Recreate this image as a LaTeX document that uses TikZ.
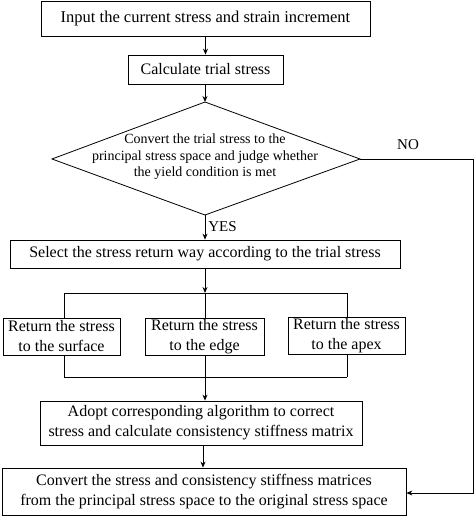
\documentclass[tikz,border=0pt]{standalone}
\usepackage{fontspec}
\setmainfont{Liberation Serif}
\usetikzlibrary{arrows.meta}
\begin{document}
\begin{tikzpicture}[x=1pt,y=-1pt,
  every path/.style={line width=0.8pt},
  box/.style={draw, line width=0.8pt, inner sep=0pt, align=center, font=\fontsize{16}{20}\selectfont},
  arr/.style={-{Stealth[length=6pt,width=5pt]}},
  lbl/.style={inner sep=0pt, font=\fontsize{15}{18}\selectfont}]
\useasboundingbox (0,0) rectangle (474,516);
\node[box, minimum width=329pt, minimum height=35pt, font=\fontsize{16.5}{20}\selectfont] (b1) at (205.5,18.5) {Input the current stress and strain increment};
\node[box, minimum width=155pt, minimum height=29pt] (b2) at (205.5,69.5) {Calculate trial stress};
\coordinate (dt) at (205,102);
\coordinate (dr) at (360,159);
\coordinate (db) at (205,215);
\coordinate (dl) at (52,159);
\draw (dt) -- (dr) -- (db) -- (dl) -- cycle;
\node[align=center, inner sep=0pt, font=\fontsize{14}{16.5}\selectfont] (dtext) at (205,157) {Convert the trial stress to the\\principal stress space and judge whether\\the yield condition is met};
\node[box, minimum width=390pt, minimum height=28pt] (b3) at (205,254) {Select the stress return way according to the trial stress};
\node[box, minimum width=117pt, minimum height=37pt] (rl) at (61.5,336.5) {Return the stress\\to the surface};
\node[box, minimum width=119pt, minimum height=37pt] (rm) at (204.5,336.5) {Return the stress\\to the edge};
\node[box, minimum width=117pt, minimum height=37pt] (rr) at (346.5,335.5) {Return the stress\\to the apex};
\node[box, minimum width=322pt, minimum height=44pt] (b4) at (201,423) {Adopt corresponding algorithm to correct\\stress and calculate consistency stiffness matrix};
\node[box, minimum width=404pt, minimum height=47pt] (b5) at (204,491.5) {Convert the stress and consistency stiffness matrices\\from the principal stress space to the original stress space};
% connectors
\draw[arr] (b1.south -| b2.north) -- (b2.north);
\draw[arr] (b2.south -| dt) -- (dt);
\draw[arr] (db) -- (db |- b3.north);
\node[lbl, anchor=west] (yes) at (208,227) {YES};
\coordinate (tl) at (64,293);
\coordinate (tr) at (347,293);
\coordinate (tm) at (205,293);
\draw (tl) -- (tr);
\draw[arr] (b3.south -| tm) -- (tm);
\draw (tl) -- (tl |- rl.north);
\draw (tm) -- (tm |- rm.north);
\draw (tr) -- (tr |- rr.north);
\coordinate (bl) at (64,377);
\coordinate (br) at (347,377);
\coordinate (bm) at (205,377);
\draw (bl) -- (br);
\draw (bl |- rl.south) -- (bl);
\draw (bm |- rm.south) -- (bm);
\draw (br |- rr.south) -- (br);
\draw[arr] (bm) -- (bm |- b4.north);
\coordinate (m45) at (203,0);
\draw[arr] (m45 |- b4.south) -- (m45 |- b5.north);
\coordinate (nc) at (473,159);
\coordinate (nb) at (473,493);
\draw[arr] (dr) -- (nc) -- (nb) -- (nb -| b5.east);
\node[lbl] (no) at (408,145) {NO};
\end{tikzpicture}
\end{document}
